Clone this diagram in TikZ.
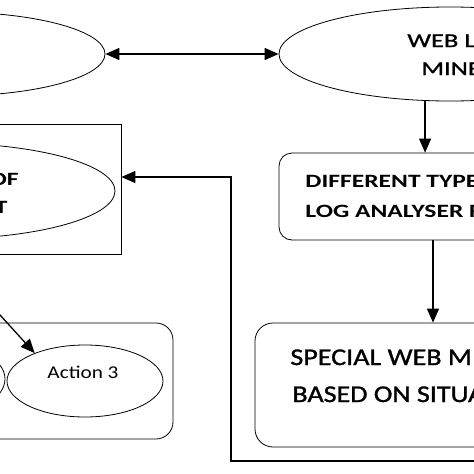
\documentclass[tikz,border=0pt]{standalone}
\usepackage{fontspec}
\setmainfont{Carlito}
\newfontfamily\widefont[FakeStretch=1.36]{Carlito}
\newfontfamily\widesemi[FakeStretch=1.36,FakeBold=1.2]{Carlito}
\newfontfamily\bigsemi[FakeStretch=1.17,FakeBold=1.2]{Carlito}
\newfontfamily\midwide[FakeStretch=1.18]{Carlito}
\usetikzlibrary{arrows.meta,shapes.geometric}
\begin{document}
\begin{tikzpicture}[x=1pt,y=-1pt,
  line width=0.8pt,
  ell/.style={draw, ellipse, inner sep=0pt},
  rbox/.style={draw, rounded corners=#1, inner sep=0pt},
  sqbox/.style={draw, inner sep=0pt},
  arr/.style={line width=1.3pt, -{Triangle[length=14pt,width=12pt]}},
  darr/.style={line width=1.3pt, {Triangle[length=14pt,width=12pt]}-{Triangle[length=14pt,width=12pt]}},
  lbl/.style={inner sep=0pt, anchor=base west},
  lble/.style={inner sep=0pt, anchor=base east},
  midf/.style={font=\widesemi\fontsize{19.5pt}{21pt}\selectfont},
  boldf/.style={font=\widefont\fontsize{18.8pt}{20pt}\selectfont\bfseries},
  bigf/.style={font=\bigsemi\fontsize{24pt}{26pt}\selectfont},
  actf/.style={font=\midwide\fontsize{18pt}{20pt}\selectfont}]
\useasboundingbox (0,0) rectangle (474,474);
\clip (0,0) rectangle (474,474);
\fill[white] (0,0) rectangle (474,474);

% top row
\node[ell, minimum width=310pt, minimum height=84pt] (E1) at (-50,54) {};
\node[ell, minimum width=342pt, minimum height=94pt] (E2) at (450,54) {};
\node[lbl, midf] (t2a) at (407,47) {WEB LOG};
\node[lbl, midf] (t2b) at (421,75) {MINER};
\draw[darr] (E1.east) -- (E2.west);

% right column
\node[rbox=13pt, minimum width=361pt, minimum height=87pt] (B1) at (459.5,196.5) {};
\node[lbl, boldf] (t3a) at (305,187) {DIFFERENT TYPES OF};
\node[lbl, boldf] (t3b) at (305,217) {LOG ANALYSER FOR};
\draw[arr] (E2.242) -- (E2.242 |- B1.north);

\node[rbox=18pt, minimum width=445pt, minimum height=124pt] (B2) at (477.5,385) {};
\node[lbl, bigf] (t4a) at (290,365) {SPECIAL WEB MINING};
\node[lbl, bigf] (t4b) at (292,402) {BASED ON SITUATION};
\coordinate (bx) at (433,0);
\draw[arr] (bx |- B1.south) -- (bx |- B2.north);

% left box
\node[sqbox, minimum width=321pt, minimum height=130pt] (LB) at (-39.5,189) {};
\node[ell, minimum width=350pt, minimum height=96pt] (LE) at (-60,191) {};
\node[lble, boldf] (t5a) at (19,185) {ANALYSIS OF};
\node[lble, boldf] (t5b) at (8,213) {CONTENT};

% feedback connector
\coordinate (fbs) at (600,461);
\coordinate (fc) at (231,461);
\coordinate (fe) at (231,177);
\draw[arr] (fbs) -- (fc) -- (fe) -- (fe -| LB.east);

% bottom-left box
\node[rbox=17pt, minimum width=373pt, minimum height=116pt] (BL) at (-13.5,381) {};
\node[ell, minimum width=156pt, minimum height=72pt] (A3) at (85,381) {};
\node[inner sep=0pt, anchor=base, actf] (t6) at (83,378) {Action 3};
\node[ell, minimum width=130pt, minimum height=72pt] (A2) at (-60,379) {};
\coordinate (a1) at (-40,271);
\draw[arr] (a1) -- (A3.151);
\end{tikzpicture}
\end{document}
